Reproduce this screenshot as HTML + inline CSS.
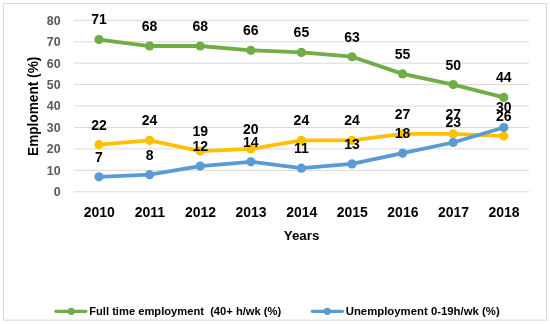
<!DOCTYPE html><html><head><meta charset="utf-8"><title>Employment chart</title>
<style>html,body{margin:0;padding:0;background:#fff;}svg{display:block;}text{font-family:"Liberation Sans", sans-serif;font-weight:bold;}</style></head><body>
<svg width="550" height="324" viewBox="0 0 550 324">
<rect x="0" y="0" width="550" height="324" fill="#fff"/>
<rect x="3.5" y="3.5" width="543" height="316.6" fill="none" stroke="#d9d9d9" stroke-width="1"/>
<line x1="74" x2="529" y1="191.80" y2="191.80" stroke="#d9d9d9" stroke-width="1"/>
<text transform="translate(60.6,196.20) scale(0.92,1)" text-anchor="end" font-size="13.5" fill="#595959">0</text>
<line x1="74" x2="529" y1="170.36" y2="170.36" stroke="#d9d9d9" stroke-width="1"/>
<text transform="translate(60.6,174.76) scale(0.92,1)" text-anchor="end" font-size="13.5" fill="#595959">10</text>
<line x1="74" x2="529" y1="148.92" y2="148.92" stroke="#d9d9d9" stroke-width="1"/>
<text transform="translate(60.6,153.32) scale(0.92,1)" text-anchor="end" font-size="13.5" fill="#595959">20</text>
<line x1="74" x2="529" y1="127.48" y2="127.48" stroke="#d9d9d9" stroke-width="1"/>
<text transform="translate(60.6,131.88) scale(0.92,1)" text-anchor="end" font-size="13.5" fill="#595959">30</text>
<line x1="74" x2="529" y1="106.04" y2="106.04" stroke="#d9d9d9" stroke-width="1"/>
<text transform="translate(60.6,110.44) scale(0.92,1)" text-anchor="end" font-size="13.5" fill="#595959">40</text>
<line x1="74" x2="529" y1="84.60" y2="84.60" stroke="#d9d9d9" stroke-width="1"/>
<text transform="translate(60.6,89.00) scale(0.92,1)" text-anchor="end" font-size="13.5" fill="#595959">50</text>
<line x1="74" x2="529" y1="63.16" y2="63.16" stroke="#d9d9d9" stroke-width="1"/>
<text transform="translate(60.6,67.56) scale(0.92,1)" text-anchor="end" font-size="13.5" fill="#595959">60</text>
<line x1="74" x2="529" y1="41.72" y2="41.72" stroke="#d9d9d9" stroke-width="1"/>
<text transform="translate(60.6,46.12) scale(0.92,1)" text-anchor="end" font-size="13.5" fill="#595959">70</text>
<line x1="74" x2="529" y1="20.28" y2="20.28" stroke="#d9d9d9" stroke-width="1"/>
<text transform="translate(60.6,24.68) scale(0.92,1)" text-anchor="end" font-size="13.5" fill="#595959">80</text>
<polyline points="99.00,39.58 149.60,46.01 200.20,46.01 250.80,50.30 301.40,52.44 352.00,56.73 402.60,73.88 453.20,84.60 503.80,97.46" fill="none" stroke="#70ad47" stroke-width="3.8" stroke-linejoin="round" stroke-linecap="round"/>
<circle cx="99.00" cy="39.58" r="4.6" fill="#70ad47"/>
<circle cx="149.60" cy="46.01" r="4.6" fill="#70ad47"/>
<circle cx="200.20" cy="46.01" r="4.6" fill="#70ad47"/>
<circle cx="250.80" cy="50.30" r="4.6" fill="#70ad47"/>
<circle cx="301.40" cy="52.44" r="4.6" fill="#70ad47"/>
<circle cx="352.00" cy="56.73" r="4.6" fill="#70ad47"/>
<circle cx="402.60" cy="73.88" r="4.6" fill="#70ad47"/>
<circle cx="453.20" cy="84.60" r="4.6" fill="#70ad47"/>
<circle cx="503.80" cy="97.46" r="4.6" fill="#70ad47"/>
<polyline points="99.00,144.63 149.60,140.34 200.20,151.06 250.80,148.92 301.40,140.34 352.00,140.34 402.60,133.91 453.20,133.91 503.80,136.06" fill="none" stroke="#ffc000" stroke-width="3.8" stroke-linejoin="round" stroke-linecap="round"/>
<circle cx="99.00" cy="144.63" r="4.6" fill="#ffc000"/>
<circle cx="149.60" cy="140.34" r="4.6" fill="#ffc000"/>
<circle cx="200.20" cy="151.06" r="4.6" fill="#ffc000"/>
<circle cx="250.80" cy="148.92" r="4.6" fill="#ffc000"/>
<circle cx="301.40" cy="140.34" r="4.6" fill="#ffc000"/>
<circle cx="352.00" cy="140.34" r="4.6" fill="#ffc000"/>
<circle cx="402.60" cy="133.91" r="4.6" fill="#ffc000"/>
<circle cx="453.20" cy="133.91" r="4.6" fill="#ffc000"/>
<circle cx="503.80" cy="136.06" r="4.6" fill="#ffc000"/>
<polyline points="99.00,176.79 149.60,174.65 200.20,166.07 250.80,161.78 301.40,168.22 352.00,163.93 402.60,153.21 453.20,142.49 503.80,127.48" fill="none" stroke="#5b9bd5" stroke-width="3.8" stroke-linejoin="round" stroke-linecap="round"/>
<circle cx="99.00" cy="176.79" r="4.6" fill="#5b9bd5"/>
<circle cx="149.60" cy="174.65" r="4.6" fill="#5b9bd5"/>
<circle cx="200.20" cy="166.07" r="4.6" fill="#5b9bd5"/>
<circle cx="250.80" cy="161.78" r="4.6" fill="#5b9bd5"/>
<circle cx="301.40" cy="168.22" r="4.6" fill="#5b9bd5"/>
<circle cx="352.00" cy="163.93" r="4.6" fill="#5b9bd5"/>
<circle cx="402.60" cy="153.21" r="4.6" fill="#5b9bd5"/>
<circle cx="453.20" cy="142.49" r="4.6" fill="#5b9bd5"/>
<circle cx="503.80" cy="127.48" r="4.6" fill="#5b9bd5"/>
<text x="99.00" y="24.48" text-anchor="middle" font-size="14" fill="#000">71</text>
<text x="149.60" y="30.91" text-anchor="middle" font-size="14" fill="#000">68</text>
<text x="200.20" y="30.91" text-anchor="middle" font-size="14" fill="#000">68</text>
<text x="250.80" y="35.20" text-anchor="middle" font-size="14" fill="#000">66</text>
<text x="301.40" y="37.34" text-anchor="middle" font-size="14" fill="#000">65</text>
<text x="352.00" y="41.63" text-anchor="middle" font-size="14" fill="#000">63</text>
<text x="402.60" y="58.78" text-anchor="middle" font-size="14" fill="#000">55</text>
<text x="453.20" y="69.50" text-anchor="middle" font-size="14" fill="#000">50</text>
<text x="503.80" y="82.36" text-anchor="middle" font-size="14" fill="#000">44</text>
<text x="99.00" y="129.53" text-anchor="middle" font-size="14" fill="#000">22</text>
<text x="149.60" y="125.24" text-anchor="middle" font-size="14" fill="#000">24</text>
<text x="200.20" y="135.96" text-anchor="middle" font-size="14" fill="#000">19</text>
<text x="250.80" y="133.82" text-anchor="middle" font-size="14" fill="#000">20</text>
<text x="301.40" y="125.24" text-anchor="middle" font-size="14" fill="#000">24</text>
<text x="352.00" y="125.24" text-anchor="middle" font-size="14" fill="#000">24</text>
<text x="402.60" y="118.81" text-anchor="middle" font-size="14" fill="#000">27</text>
<text x="453.20" y="118.81" text-anchor="middle" font-size="14" fill="#000">27</text>
<text x="503.80" y="120.96" text-anchor="middle" font-size="14" fill="#000">26</text>
<text x="99.00" y="161.69" text-anchor="middle" font-size="14" fill="#000">7</text>
<text x="149.60" y="159.55" text-anchor="middle" font-size="14" fill="#000">8</text>
<text x="200.20" y="150.97" text-anchor="middle" font-size="14" fill="#000">12</text>
<text x="250.80" y="146.68" text-anchor="middle" font-size="14" fill="#000">14</text>
<text x="301.40" y="153.12" text-anchor="middle" font-size="14" fill="#000">11</text>
<text x="352.00" y="148.83" text-anchor="middle" font-size="14" fill="#000">13</text>
<text x="402.60" y="138.11" text-anchor="middle" font-size="14" fill="#000">18</text>
<text x="453.20" y="127.39" text-anchor="middle" font-size="14" fill="#000">23</text>
<text x="503.80" y="112.38" text-anchor="middle" font-size="14" fill="#000">30</text>
<text transform="translate(99.30,216.5) scale(0.94,1)" text-anchor="middle" font-size="14.9" fill="#000">2010</text>
<text transform="translate(149.90,216.5) scale(0.94,1)" text-anchor="middle" font-size="14.9" fill="#000">2011</text>
<text transform="translate(200.50,216.5) scale(0.94,1)" text-anchor="middle" font-size="14.9" fill="#000">2012</text>
<text transform="translate(251.10,216.5) scale(0.94,1)" text-anchor="middle" font-size="14.9" fill="#000">2013</text>
<text transform="translate(301.70,216.5) scale(0.94,1)" text-anchor="middle" font-size="14.9" fill="#000">2014</text>
<text transform="translate(352.30,216.5) scale(0.94,1)" text-anchor="middle" font-size="14.9" fill="#000">2015</text>
<text transform="translate(402.90,216.5) scale(0.94,1)" text-anchor="middle" font-size="14.9" fill="#000">2016</text>
<text transform="translate(453.50,216.5) scale(0.94,1)" text-anchor="middle" font-size="14.9" fill="#000">2017</text>
<text transform="translate(504.10,216.5) scale(0.94,1)" text-anchor="middle" font-size="14.9" fill="#000">2018</text>
<text transform="translate(301.6,240.4) scale(0.975,1)" text-anchor="middle" font-size="13.7" fill="#000">Years</text>
<text transform="translate(37.7,106.3) rotate(-90) scale(0.91,1)" text-anchor="middle" font-size="15" fill="#000">Emploment (%)</text>
<line x1="56" x2="85.8" y1="311.3" y2="311.3" stroke="#70ad47" stroke-width="3.3" stroke-linecap="round"/><circle cx="71.3" cy="311.3" r="3.6" fill="#70ad47"/>
<text x="89.2" y="315.2" font-size="11.8" fill="#000" textLength="192" lengthAdjust="spacingAndGlyphs" xml:space="preserve">Full time employment  (40+ h/wk (%)</text>
<line x1="312.3" x2="342.4" y1="311.3" y2="311.3" stroke="#5b9bd5" stroke-width="3.3" stroke-linecap="round"/><circle cx="327.3" cy="311.3" r="3.6" fill="#5b9bd5"/>
<text x="345.7" y="315.2" font-size="11.8" fill="#000" textLength="154" lengthAdjust="spacingAndGlyphs">Unemployment 0-19h/wk (%)</text>
</svg></body></html>
